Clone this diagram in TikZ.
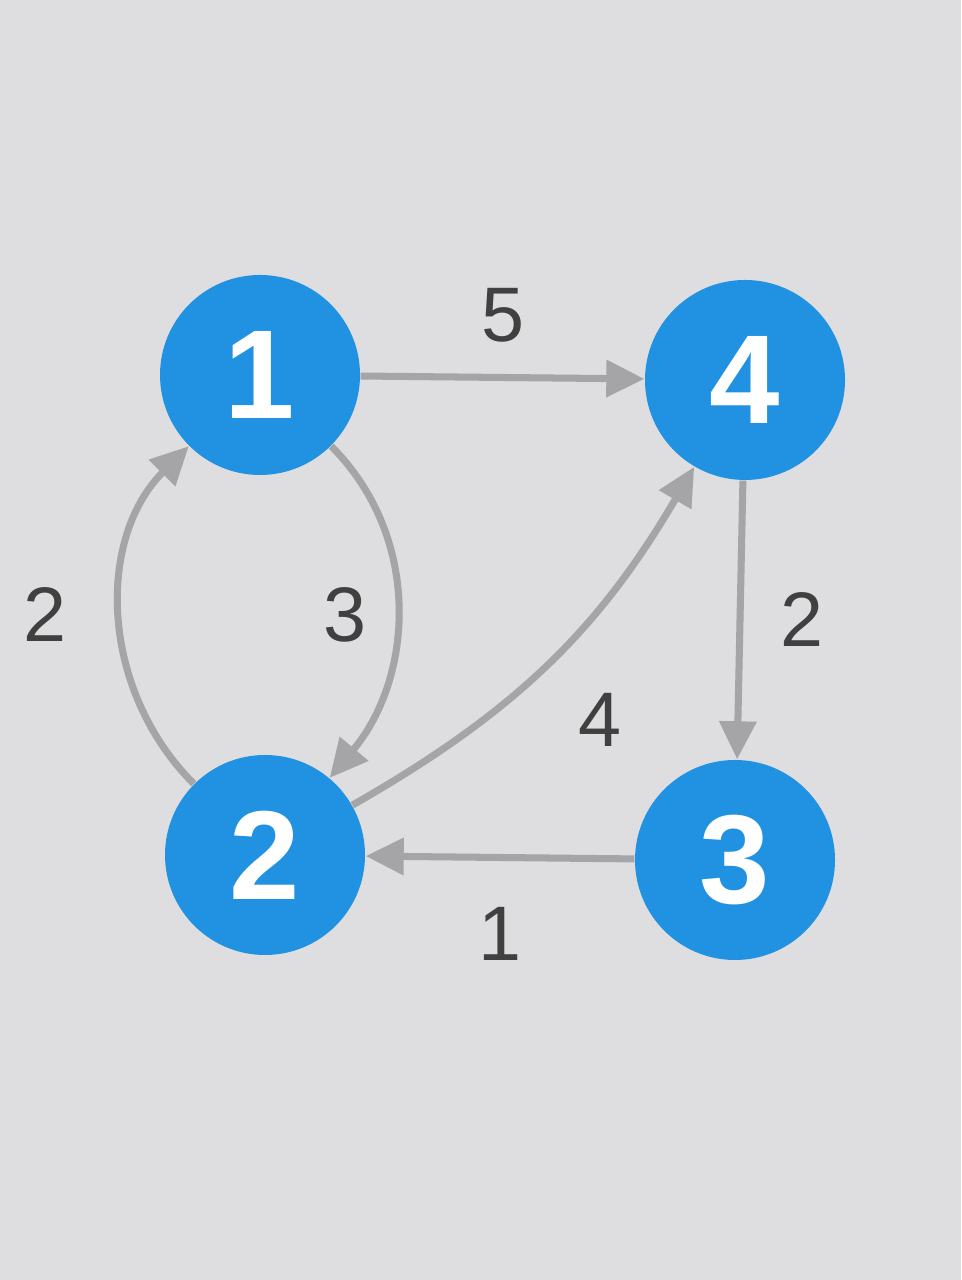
\documentclass[tikz,border=0pt]{standalone}
\usepackage{fontspec}
\setsansfont{Liberation Sans}
\usetikzlibrary{arrows.meta}
\definecolor{vblue}{RGB}{33,146,226}
\definecolor{egray}{RGB}{165,165,168}
\definecolor{bggray}{RGB}{222,222,224}
\tikzset{
	vert/.style={circle,fill=vblue,minimum size=2cm,inner sep=0pt,text=white,
		font=\sffamily\bfseries\fontsize{36}{40}\selectfont},
	edge/.style={egray,line width=2pt,-{Triangle[length=0.38cm,width=0.36cm]}},
	wlabel/.style={text={black!75},font=\sffamily\fontsize{22}{26}\selectfont}
}
\begin{document}
\begin{tikzpicture}
	\fill[bggray] (0,0) rectangle (9.61,12.8);
	\useasboundingbox (0,0) rectangle (9.61,12.8);

	\node[vert] (v1) at (2.60,9.05) {1};
	\node[vert] (v4) at (7.45,9.00) {4};
	\node[vert] (v2) at (2.65,4.25) {2};
	\node[vert] (v3) at (7.35,4.20) {3};

	\draw[edge] (v1) -- (v4) node[wlabel,midway,above=0.2cm] {5};
	\draw[edge] (v4) -- (v3) node[wlabel,midway,right=0.25cm] {2};
	\draw[edge] (v3) -- (v2) node[wlabel,midway,below=0.35cm] {1};
	\draw[edge] (v2) to[out=135,in=-135] (v1);
	\draw[edge] (v1) to[out=-45,in=50] (v2);
	\draw[edge] (v2) to[bend right=15] (v4);

	\node[wlabel] (w21) at (0.45,6.65) {2};
	\node[wlabel] (w12) at (3.45,6.65) {3};
	\node[wlabel] (w24) at (6.00,5.60) {4};
\end{tikzpicture}
\end{document}
